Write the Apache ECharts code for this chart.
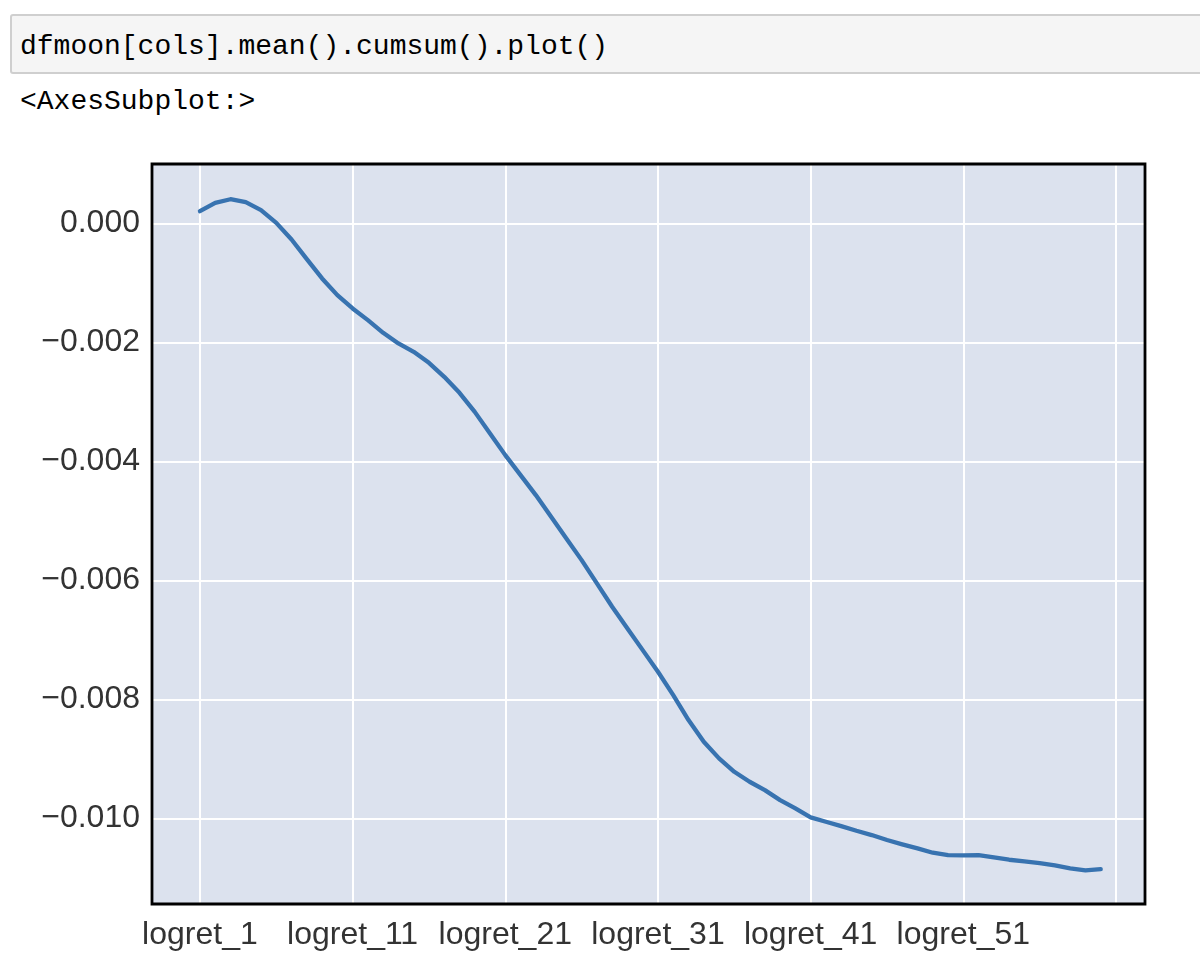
<!DOCTYPE html>
<html>
<head>
<meta charset="utf-8">
<script src="https://cdn.jsdelivr.net/npm/echarts@6.0.0/dist/echarts.min.js"></script>
<style>
  html, body { margin: 0; padding: 0; background: #ffffff; width: 1200px; height: 976px; overflow: hidden; }
  #codebox { position: absolute; left: 10px; top: 14px; width: 1220px; height: 56px; background: #f5f5f5; border: 2px solid #cfcfcf; border-radius: 3px; }
  .mono { position: absolute; left: 20px; font-family: "Liberation Mono", "DejaVu Sans Mono", monospace; font-size: 28px; line-height: 32px; color: #000; white-space: pre; }
  #code { top: 31px; }
  #out { top: 86px; }
  #chart { position: absolute; left: 0; top: 0; width: 1200px; height: 976px; }
</style>
</head>
<body>
<div id="codebox"></div>
<div class="mono" id="code">dfmoon[cols].mean().cumsum().plot()</div>
<div class="mono" id="out">&lt;AxesSubplot:&gt;</div>
<div id="chart"></div>
<script>
const categories = [
  'logret_1','logret_2','logret_3','logret_4','logret_5','logret_6','logret_7','logret_8','logret_9','logret_10',
  'logret_11','logret_12','logret_13','logret_14','logret_15','logret_16','logret_17','logret_18','logret_19','logret_20',
  'logret_21','logret_22','logret_23','logret_24','logret_25','logret_26','logret_27','logret_28','logret_29','logret_30',
  'logret_31','logret_32','logret_33','logret_34','logret_35','logret_36','logret_37','logret_38','logret_39','logret_40',
  'logret_41','logret_42','logret_43','logret_44','logret_45','logret_46','logret_47','logret_48','logret_49','logret_50',
  'logret_51','logret_52','logret_53','logret_54','logret_55','logret_56','logret_57','logret_58','logret_59','logret_60'
];
const cumMean = [
  0.000207, 0.000346, 0.000408, 0.000358, 0.000224, 0.000010, -0.000269, -0.000600, -0.000924, -0.001205,
  -0.001429, -0.001625, -0.001838, -0.002017, -0.002158, -0.002343, -0.002578, -0.002847, -0.003167, -0.003529,
  -0.003894, -0.004230, -0.004566, -0.004931, -0.005294, -0.005659, -0.006051, -0.006443, -0.006807, -0.007172,
  -0.007536, -0.007928, -0.008348, -0.008713, -0.008992, -0.009217, -0.009385, -0.009525, -0.009693, -0.009832,
  -0.009983, -0.010057, -0.010130, -0.010209, -0.010281, -0.010365, -0.010437, -0.010504, -0.010578, -0.010617,
  -0.010622, -0.010617, -0.010656, -0.010696, -0.010723, -0.010751, -0.010790, -0.010840, -0.010874, -0.010853
];
const xTickLabels = ['logret_1','logret_11','logret_21','logret_31','logret_41','logret_51'];
const yTickValues = [0.000, -0.002, -0.004, -0.006, -0.008, -0.010];

const seriesData = cumMean.map((v, i) => [i, v]);

const GRID = { left: 152, top: 164, width: 993, height: 740 };

function xLabel(v) {
  if (Math.abs(v - Math.round(v)) > 1e-6) return '';
  const name = categories[Math.round(v)];
  return (name && xTickLabels.indexOf(name) >= 0) ? name : '';
}
function yLabel(v) {
  for (const t of yTickValues) {
    if (Math.abs(v - t) < 1e-9) {
      if (t === 0) return '0.000';
      return (t < 0 ? '\u2212' : '') + Math.abs(t).toFixed(3);
    }
  }
  return '';
}

const chart = echarts.init(document.getElementById('chart'));
chart.setOption({
  animation: false,
  backgroundColor: 'transparent',
  grid: {
    left: GRID.left, top: GRID.top, width: GRID.width, height: GRID.height,
    show: true, backgroundColor: '#dce2ee', borderWidth: 0
  },
  xAxis: {
    type: 'value',
    min: -3.14, max: 61.9,
    minInterval: 10, maxInterval: 10, splitNumber: 6,
    axisLine: { show: false },
    axisTick: { show: false },
    axisLabel: {
      formatter: xLabel, margin: 15,
      fontFamily: 'Liberation Sans, Arial, sans-serif', fontSize: 32, color: '#333333',
      showMinLabel: true, showMaxLabel: true, hideOverlap: false
    },
    splitLine: { show: true, lineStyle: { color: '#ffffff', width: 2 } }
  },
  yAxis: {
    type: 'value',
    min: -0.01144, max: 0.001,
    minInterval: 0.002, maxInterval: 0.002, splitNumber: 6,
    axisLine: { show: false },
    axisTick: { show: false },
    axisLabel: {
      formatter: yLabel, margin: 12,
      fontFamily: 'Liberation Sans, Arial, sans-serif', fontSize: 32, color: '#333333',
      hideOverlap: false
    },
    splitLine: { show: true, lineStyle: { color: '#ffffff', width: 2 } }
  },
  series: [{
    type: 'line',
    data: seriesData,
    showSymbol: false,
    smooth: false,
    lineStyle: { color: '#3873b0', width: 4.3, cap: 'round', join: 'round' },
    z: 3
  }],
  graphic: [{
    type: 'rect',
    z: 100,
    silent: true,
    shape: { x: GRID.left, y: GRID.top, width: GRID.width, height: GRID.height },
    style: { fill: null, stroke: '#000000', lineWidth: 2.8 }
  }]
});
</script>
</body>
</html>
